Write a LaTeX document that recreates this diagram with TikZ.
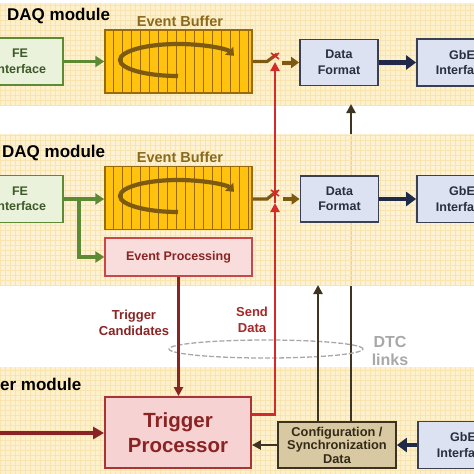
\documentclass[tikz,border=0pt]{standalone}
\usepackage{fontspec}
\setmainfont{Liberation Sans}
\usetikzlibrary{arrows.meta,calc,shapes.geometric}
\definecolor{bandfill}{HTML}{FDF1CD}
\definecolor{bandgrid}{HTML}{F9E3AE}
\definecolor{feFill}{HTML}{EAF2DC}
\definecolor{feLine}{HTML}{5E8A34}
\definecolor{feText}{HTML}{3F5A2A}
\definecolor{bufFill}{HTML}{FFC20E}
\definecolor{bufLine}{HTML}{9A6A08}
\definecolor{bufTitle}{HTML}{8A6A1E}
\definecolor{brownArr}{HTML}{7D5A12}
\definecolor{dfFill}{HTML}{DCE2F2}
\definecolor{dfLine}{HTML}{3A3F52}
\definecolor{dfText}{HTML}{2A2E3E}
\definecolor{navy}{HTML}{1F2A48}
\definecolor{epFill}{HTML}{F9DCDC}
\definecolor{epLine}{HTML}{C84848}
\definecolor{darkred}{HTML}{8A2424}
\definecolor{sendred}{HTML}{D42A2A}
\definecolor{tpFill}{HTML}{F7D2D2}
\definecolor{tpLine}{HTML}{A83434}
\definecolor{cfgFill}{HTML}{D9C9A2}
\definecolor{cfgLine}{HTML}{3C3220}
\definecolor{cfgText}{HTML}{332A18}
\definecolor{cfgArr}{HTML}{3E3420}
\definecolor{dtcGray}{HTML}{A8A8A8}
\tikzset{
  boxbase/.style={draw, line width=1.8pt, inner sep=0pt, align=center,
    font=\bfseries\fontsize{12.5}{15.5}\selectfont},
  febox/.style={boxbase, fill=feFill, draw=feLine, text=feText, minimum width=86pt, minimum height=47pt},
  dfbox/.style={boxbase, fill=dfFill, draw=dfLine, text=dfText, minimum width=78pt, minimum height=46pt},
  gbebox/.style={boxbase, fill=dfFill, draw=dfLine, text=dfText, minimum width=90pt, minimum height=47pt},
  bufbox/.style={draw=bufLine, fill=bufFill, line width=1.5pt, minimum width=147pt, minimum height=63pt, inner sep=0pt},
  epbox/.style={boxbase, line width=1.3pt, fill=epFill, draw=epLine, text=darkred, minimum width=147pt, minimum height=38pt},
  tpbox/.style={boxbase, fill=tpFill, draw=tpLine, text=darkred, minimum width=146pt, minimum height=71pt,
    font=\bfseries\fontsize{20.5}{25}\selectfont},
  cfgbox/.style={boxbase, fill=cfgFill, draw=cfgLine, text=cfgText, minimum width=118pt, minimum height=46pt,
    font=\bfseries\fontsize{12.8}{13.5}\selectfont},
  modlabel/.style={inner sep=0pt, anchor=west, font=\bfseries\fontsize{17}{20}\selectfont},
  buftitle/.style={inner sep=0pt, text=bufTitle, font=\bfseries\fontsize{14.5}{17}\selectfont},
  lbl/.style={inner sep=0pt, align=center, font=\bfseries\fontsize{13}{15.5}\selectfont},
  garrow/.style={draw=feLine, line width=3.2pt, -{Triangle[length=9pt,width=11pt]}},
  brownline/.style={draw=brownArr, line width=3.2pt},
  brownarrow/.style={draw=brownArr, line width=4pt, -{Triangle[length=8pt,width=11pt]}},
  loopar/.style={draw=brownArr, line width=4.2pt, -{Triangle[length=7pt,width=11pt]}},
  navyarrow/.style={draw=navy, line width=4.5pt, -{Triangle[length=10pt,width=14pt]}},
  sendarrow/.style={draw=sendred, line width=2.8pt, -{Triangle[length=9pt,width=9pt]}},
  candarrow/.style={draw=darkred, line width=2.4pt, -{Triangle[length=9pt,width=9pt]}},
  inarrow/.style={draw=darkred, line width=3.8pt, -{Triangle[length=11pt,width=12pt]}},
  cfgarrow/.style={draw=cfgArr, line width=2.5pt, -{Triangle[length=9pt,width=9pt]}},
  gridline/.style={draw=bandgrid, line width=0.5pt},
  stripe/.style={draw=bufLine, line width=1pt}
}
\begin{document}
\begin{tikzpicture}[x=1pt,y=-1pt]
\useasboundingbox (0,0) rectangle (474,474);
\clip (0,0) rectangle (474,474);
\fill[white] (0,0) rectangle (474,474);
% bands 1 and 3
\fill[bandfill] (0,3) rectangle (474,105);
\foreach \gx in {0,5,...,474} \draw[gridline] (\gx,3) -- (\gx,105);
\foreach \gy in {5,10,...,105} \draw[gridline] (0,\gy) -- (474,\gy);
\fill[bandfill] (0,367) rectangle (474,474);
\foreach \gx in {0,5,...,474} \draw[gridline] (\gx,367) -- (\gx,474);
\foreach \gy in {370,375,...,474} \draw[gridline] (0,\gy) -- (474,\gy);

% config box (needed for the long line behind band 2)
\node[cfgbox] (cfg) at (337,445) {Configuration /\\Synchronization\\Data};
\coordinate (up2) at (351,104);
\draw[cfgarrow] (cfg.north -| up2) -- (up2);

% band 2 (drawn over the long line)
\fill[bandfill, fill opacity=0.85] (0,134) rectangle (474,285);
\foreach \gx in {0,5,...,474} \draw[gridline] (\gx,134) -- (\gx,285);
\foreach \gy in {135,140,...,285} \draw[gridline] (0,\gy) -- (474,\gy);

% DTC links ellipse
\node[ellipse, draw=dtcGray, dashed, dash pattern=on 5pt off 2pt, line width=1.3pt,
      minimum width=194pt, minimum height=18pt, inner sep=0pt] (dtc) at (266,349) {};
\node[lbl, text=dtcGray, font=\bfseries\fontsize{16}{18}\selectfont] (dtcl) at (390,351) {DTC\\links};

% module labels
\node[modlabel] (daq1) at (7,16) {DAQ module};
\node[modlabel] (daq2) at (2,153) {DAQ module};
\node[modlabel] (trm) at (0,384) {er module};

% ---------------- DAQ module 1
\node[febox] (fe1) at (20,61.5) {FE\\Interface};
\node[bufbox] (buf1) at (178.5,61.5) {};
\foreach \i in {1,...,16} \draw[stripe] ($(buf1.north west)+(9*\i,0)$) -- ($(buf1.south west)+(9*\i,0)$);
\node[buftitle] (ebt1) at (180,21) {Event Buffer};
\draw[loopar] (178,76) arc[start angle=90, end angle=345, x radius=58, y radius=16];
\node[dfbox] (df1) at (339,62.5) {Data\\Format};
\node[gbebox] (gbe1) at (462,62.5) {GbE\\Interface};
\draw[garrow] (fe1.east) -- (buf1.west);
\coordinate (sw1) at (275,56);
\draw[brownline] (buf1.east) -- (267,61.5) -- (277,54);
\draw[brownarrow] ($(df1.west)+(-17,0)$) -- (df1.west);
\draw[navyarrow] (df1.east) -- (gbe1.west);

% ---------------- DAQ module 2
\node[febox] (fe2) at (20,199) {FE\\Interface};
\node[bufbox] (buf2) at (178.5,198) {};
\foreach \i in {1,...,16} \draw[stripe] ($(buf2.north west)+(9*\i,0)$) -- ($(buf2.south west)+(9*\i,0)$);
\node[buftitle] (ebt2) at (180,157) {Event Buffer};
\draw[loopar] (178,212) arc[start angle=90, end angle=345, x radius=58, y radius=16];
\node[epbox] (ep) at (178.5,257) {Event Processing};
\node[dfbox] (df2) at (339.5,199) {Data\\Format};
\node[gbebox] (gbe2) at (462,199) {GbE\\Interface};
\coordinate (br) at (79,199);
\draw[garrow] (fe2.east) -- (fe2.east -| buf2.west);
\draw[garrow] (br) |- (ep.west);
\coordinate (sw2) at (275,193);
\draw[brownline] (buf2.east |- fe2.east) -- (267,199) -- (277,191);
\draw[brownarrow] ($(df2.west)+(-17,0)$) -- (df2.west);
\draw[navyarrow] (df2.east) -- (gbe2.west);

% ---------------- Trigger module
\node[tpbox] (tp) at (178,432.5) {Trigger\\Processor};
\node[gbebox] (gbe3) at (463,445) {GbE\\Interface};
\coordinate (lin) at (0,433);
\draw[inarrow] (lin) -- (lin -| tp.west);
\draw[cfgarrow] (cfg.west) -- (cfg.west -| tp.east);
\draw[navyarrow] (gbe3.west) -- (cfg.east);
\coordinate (up1) at (318,285);
\draw[cfgarrow] (cfg.north -| up1) -- (up1);

% trigger candidates
\draw[candarrow] (ep.south) -- (ep.south |- tp.north);
\node[lbl, text=darkred] (tc) at (134,323) {Trigger\\Candidates};

% send data
\coordinate (tpo) at ($(tp.north east)+(0,18)$);
\coordinate (a2) at (275,203);
\coordinate (a1) at (275,62);
\draw[sendarrow] (tpo) -| (a2);
\draw[sendarrow] (a2) -- (a1);
\node[lbl, text=darkred!60!sendred] (sd) at (252,320) {Send\\Data};
% switch marks
\draw[sendred, line width=1.6pt] ($(sw1)+(-4,-3)$) -- ($(sw1)+(4,3)$) ($(sw1)+(-4,3)$) -- ($(sw1)+(4,-3)$);
\draw[sendred, line width=1.6pt] ($(sw2)+(-4,-3)$) -- ($(sw2)+(4,3)$) ($(sw2)+(-4,3)$) -- ($(sw2)+(4,-3)$);
\end{tikzpicture}
\end{document}
